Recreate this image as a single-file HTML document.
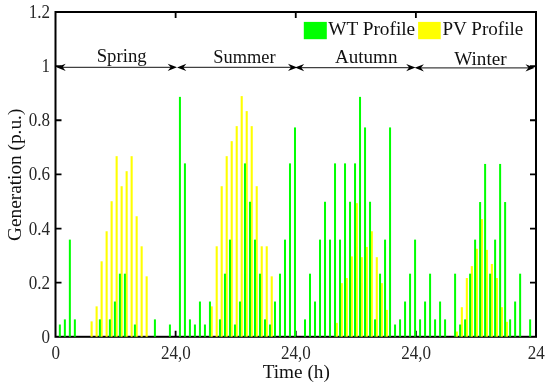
<!DOCTYPE html>
<html><head><meta charset="utf-8"><title>Generation profiles</title>
<style>html,body{margin:0;padding:0;background:#fff}svg{display:block}</style></head>
<body>
<svg width="550" height="387" viewBox="0 0 550 387">
<rect width="550" height="387" fill="#fff"/>
<rect x="55.5" y="12.0" width="480.5" height="324.8" fill="none" stroke="#000" stroke-width="2"/>
<path d="M175.62 336.8v-6M175.62 12.0v6M295.75 336.8v-6M295.75 12.0v6M415.88 336.8v-6M415.88 12.0v6M55.5 282.67h6M536.0 282.67h-6M55.5 228.53h6M536.0 228.53h-6M55.5 174.40h6M536.0 174.40h-6M55.5 120.27h6M536.0 120.27h-6M55.5 66.13h6M536.0 66.13h-6" stroke="#000" stroke-width="1.8" fill="none"/>
<g fill="#ffff00">
<rect x="90.57" y="321.38" width="2.1" height="15.32"/>
<rect x="95.57" y="306.36" width="2.1" height="30.34"/>
<rect x="100.58" y="261.31" width="2.1" height="75.39"/>
<rect x="105.58" y="231.27" width="2.1" height="105.43"/>
<rect x="110.58" y="201.23" width="2.1" height="135.47"/>
<rect x="115.59" y="156.18" width="2.1" height="180.52"/>
<rect x="120.59" y="186.21" width="2.1" height="150.49"/>
<rect x="125.59" y="171.20" width="2.1" height="165.50"/>
<rect x="130.59" y="156.18" width="2.1" height="180.52"/>
<rect x="135.60" y="216.25" width="2.1" height="120.45"/>
<rect x="140.60" y="246.29" width="2.1" height="90.41"/>
<rect x="145.60" y="276.33" width="2.1" height="60.37"/>
<rect x="210.64" y="306.36" width="2.1" height="30.34"/>
<rect x="215.65" y="246.29" width="2.1" height="90.41"/>
<rect x="220.65" y="186.21" width="2.1" height="150.49"/>
<rect x="225.65" y="156.18" width="2.1" height="180.52"/>
<rect x="230.66" y="141.16" width="2.1" height="195.54"/>
<rect x="235.66" y="126.14" width="2.1" height="210.56"/>
<rect x="240.66" y="96.10" width="2.1" height="240.60"/>
<rect x="245.66" y="111.12" width="2.1" height="225.58"/>
<rect x="250.67" y="126.14" width="2.1" height="210.56"/>
<rect x="255.67" y="186.21" width="2.1" height="150.49"/>
<rect x="260.67" y="246.29" width="2.1" height="90.41"/>
<rect x="265.68" y="246.29" width="2.1" height="90.41"/>
<rect x="270.68" y="276.33" width="2.1" height="60.37"/>
<rect x="335.72" y="322.88" width="2.1" height="13.82"/>
<rect x="340.72" y="283.14" width="2.1" height="53.56"/>
<rect x="345.72" y="278.01" width="2.1" height="58.69"/>
<rect x="350.73" y="256.38" width="2.1" height="80.32"/>
<rect x="355.73" y="203.13" width="2.1" height="133.57"/>
<rect x="360.73" y="257.19" width="2.1" height="79.51"/>
<rect x="365.74" y="246.92" width="2.1" height="89.78"/>
<rect x="370.74" y="231.24" width="2.1" height="105.46"/>
<rect x="375.74" y="257.19" width="2.1" height="79.51"/>
<rect x="380.75" y="283.14" width="2.1" height="53.56"/>
<rect x="385.75" y="309.91" width="2.1" height="26.79"/>
<rect x="455.79" y="331.53" width="2.1" height="5.17"/>
<rect x="460.79" y="307.20" width="2.1" height="29.50"/>
<rect x="465.80" y="278.01" width="2.1" height="58.69"/>
<rect x="470.80" y="266.11" width="2.1" height="70.59"/>
<rect x="475.80" y="248.81" width="2.1" height="87.89"/>
<rect x="480.81" y="219.08" width="2.1" height="117.62"/>
<rect x="485.81" y="249.89" width="2.1" height="86.81"/>
<rect x="490.81" y="263.95" width="2.1" height="72.75"/>
<rect x="495.81" y="278.01" width="2.1" height="58.69"/>
<rect x="500.82" y="307.20" width="2.1" height="29.50"/>
<rect x="505.82" y="321.80" width="2.1" height="14.90"/>
</g>
<g fill="#00ff00">
<rect x="58.85" y="324.51" width="2.0" height="12.19"/>
<rect x="63.86" y="319.37" width="2.0" height="17.33"/>
<rect x="68.86" y="239.62" width="2.0" height="97.08"/>
<rect x="73.86" y="319.37" width="2.0" height="17.33"/>
<rect x="98.88" y="319.37" width="2.0" height="17.33"/>
<rect x="108.88" y="319.37" width="2.0" height="17.33"/>
<rect x="113.89" y="301.53" width="2.0" height="35.17"/>
<rect x="118.89" y="273.68" width="2.0" height="63.02"/>
<rect x="123.89" y="273.68" width="2.0" height="63.02"/>
<rect x="133.90" y="324.51" width="2.0" height="12.19"/>
<rect x="153.91" y="319.37" width="2.0" height="17.33"/>
<rect x="168.92" y="324.51" width="2.0" height="12.19"/>
<rect x="178.93" y="96.88" width="2.0" height="239.82"/>
<rect x="183.93" y="163.39" width="2.0" height="173.31"/>
<rect x="188.93" y="319.37" width="2.0" height="17.33"/>
<rect x="193.93" y="324.51" width="2.0" height="12.19"/>
<rect x="198.94" y="301.53" width="2.0" height="35.17"/>
<rect x="203.94" y="324.51" width="2.0" height="12.19"/>
<rect x="208.94" y="301.53" width="2.0" height="35.17"/>
<rect x="218.95" y="319.37" width="2.0" height="17.33"/>
<rect x="223.95" y="273.68" width="2.0" height="63.02"/>
<rect x="228.96" y="239.62" width="2.0" height="97.08"/>
<rect x="233.96" y="324.51" width="2.0" height="12.19"/>
<rect x="238.96" y="301.53" width="2.0" height="35.17"/>
<rect x="243.96" y="163.39" width="2.0" height="173.31"/>
<rect x="248.97" y="201.77" width="2.0" height="134.93"/>
<rect x="253.97" y="239.62" width="2.0" height="97.08"/>
<rect x="258.97" y="273.68" width="2.0" height="63.02"/>
<rect x="263.98" y="319.37" width="2.0" height="17.33"/>
<rect x="268.98" y="324.51" width="2.0" height="12.19"/>
<rect x="273.98" y="301.53" width="2.0" height="35.17"/>
<rect x="278.99" y="273.68" width="2.0" height="63.02"/>
<rect x="283.99" y="239.62" width="2.0" height="97.08"/>
<rect x="288.99" y="163.39" width="2.0" height="173.31"/>
<rect x="293.99" y="127.43" width="2.0" height="209.27"/>
<rect x="304.00" y="319.37" width="2.0" height="17.33"/>
<rect x="309.00" y="273.68" width="2.0" height="63.02"/>
<rect x="314.01" y="301.53" width="2.0" height="35.17"/>
<rect x="319.01" y="239.62" width="2.0" height="97.08"/>
<rect x="324.01" y="201.77" width="2.0" height="134.93"/>
<rect x="329.02" y="239.62" width="2.0" height="97.08"/>
<rect x="334.02" y="163.39" width="2.0" height="173.31"/>
<rect x="339.02" y="239.62" width="2.0" height="97.08"/>
<rect x="344.02" y="163.39" width="2.0" height="173.31"/>
<rect x="349.03" y="201.77" width="2.0" height="134.93"/>
<rect x="354.03" y="163.39" width="2.0" height="173.31"/>
<rect x="359.03" y="96.88" width="2.0" height="239.82"/>
<rect x="364.04" y="127.43" width="2.0" height="209.27"/>
<rect x="369.04" y="201.77" width="2.0" height="134.93"/>
<rect x="374.04" y="319.37" width="2.0" height="17.33"/>
<rect x="379.05" y="273.68" width="2.0" height="63.02"/>
<rect x="384.05" y="239.62" width="2.0" height="97.08"/>
<rect x="389.05" y="127.43" width="2.0" height="209.27"/>
<rect x="394.05" y="324.51" width="2.0" height="12.19"/>
<rect x="399.06" y="319.37" width="2.0" height="17.33"/>
<rect x="404.06" y="301.53" width="2.0" height="35.17"/>
<rect x="409.06" y="273.68" width="2.0" height="63.02"/>
<rect x="414.07" y="239.62" width="2.0" height="97.08"/>
<rect x="419.07" y="319.37" width="2.0" height="17.33"/>
<rect x="424.07" y="301.53" width="2.0" height="35.17"/>
<rect x="429.08" y="273.68" width="2.0" height="63.02"/>
<rect x="434.08" y="319.37" width="2.0" height="17.33"/>
<rect x="439.08" y="301.53" width="2.0" height="35.17"/>
<rect x="444.08" y="319.37" width="2.0" height="17.33"/>
<rect x="454.09" y="273.68" width="2.0" height="63.02"/>
<rect x="459.09" y="324.51" width="2.0" height="12.19"/>
<rect x="464.10" y="319.37" width="2.0" height="17.33"/>
<rect x="469.10" y="273.68" width="2.0" height="63.02"/>
<rect x="474.10" y="239.62" width="2.0" height="97.08"/>
<rect x="479.11" y="202.04" width="2.0" height="134.66"/>
<rect x="484.11" y="163.93" width="2.0" height="172.77"/>
<rect x="489.11" y="273.68" width="2.0" height="63.02"/>
<rect x="494.11" y="239.62" width="2.0" height="97.08"/>
<rect x="499.12" y="163.93" width="2.0" height="172.77"/>
<rect x="504.12" y="202.04" width="2.0" height="134.66"/>
<rect x="509.12" y="319.37" width="2.0" height="17.33"/>
<rect x="514.13" y="301.53" width="2.0" height="35.17"/>
<rect x="519.13" y="273.68" width="2.0" height="63.02"/>
<rect x="529.13" y="319.37" width="2.0" height="17.33"/>
</g>
<g font-family="'Liberation Serif', serif" font-size="17.6" fill="#262626">
<text transform="translate(50.1,343.20) scale(0.97,1.02)" text-anchor="end">0</text>
<text transform="translate(50.1,288.95) scale(0.97,1.02)" text-anchor="end">0.2</text>
<text transform="translate(50.1,234.70) scale(0.97,1.02)" text-anchor="end">0.4</text>
<text transform="translate(50.1,180.45) scale(0.97,1.02)" text-anchor="end">0.6</text>
<text transform="translate(50.1,126.20) scale(0.97,1.02)" text-anchor="end">0.8</text>
<text transform="translate(50.1,71.95) scale(0.97,1.02)" text-anchor="end">1</text>
<text transform="translate(50.1,17.70) scale(0.97,1.02)" text-anchor="end">1.2</text>
<text transform="translate(55.70,359.0) scale(0.97,1.02)" text-anchor="middle">0</text>
<text transform="translate(175.82,359.0) scale(0.97,1.02)" text-anchor="middle">24,0</text>
<text transform="translate(295.95,359.0) scale(0.97,1.02)" text-anchor="middle">24,0</text>
<text transform="translate(416.07,359.0) scale(0.97,1.02)" text-anchor="middle">24,0</text>
<text transform="translate(536.20,359.0) scale(0.97,1.02)" text-anchor="middle">24</text>
</g>
<g font-family="'Liberation Serif', serif" font-size="19" fill="#111">
<text x="328.2" y="35.3" textLength="87" lengthAdjust="spacingAndGlyphs">WT Profile</text>
<text x="442.5" y="35.3" textLength="80.8" lengthAdjust="spacingAndGlyphs">PV Profile</text>
<text x="96.7" y="61.7" textLength="50" lengthAdjust="spacingAndGlyphs">Spring</text>
<text x="213.3" y="63" textLength="62.3" lengthAdjust="spacingAndGlyphs">Summer</text>
<text x="335.0" y="63.4" textLength="62.4" lengthAdjust="spacingAndGlyphs">Autumn</text>
<text x="454.2" y="65" textLength="52.4" lengthAdjust="spacingAndGlyphs">Winter</text>
<text x="262.7" y="378" font-size="17.8" textLength="67.2" lengthAdjust="spacingAndGlyphs">Time (h)</text>
</g>
<text font-family="'Liberation Serif', serif" font-size="19" fill="#111" transform="translate(20.8,240.9) rotate(-90)" textLength="132.2" lengthAdjust="spacingAndGlyphs">Generation (p.u.)</text>
<rect x="303.8" y="21.9" width="23" height="17.3" fill="#00ff00"/>
<rect x="418.1" y="21.9" width="22.6" height="17.3" fill="#ffff00"/>
<path d="M59.4 67.3H174.0" stroke="#404040" stroke-width="1.2" fill="none"/>
<path d="M56.4 67.3l9.3 -3.6l-3 3.6l3 3.6z" fill="#000"/>
<path d="M177.0 67.3l-9.3 -3.6l3 3.6l-3 3.6z" fill="#000"/>
<path d="M180.0 67.4H294.3" stroke="#404040" stroke-width="1.2" fill="none"/>
<path d="M177.0 67.4l9.3 -3.6l-3 3.6l3 3.6z" fill="#000"/>
<path d="M297.3 67.4l-9.3 -3.6l3 3.6l-3 3.6z" fill="#000"/>
<path d="M297.9 67.6H412.5" stroke="#404040" stroke-width="1.2" fill="none"/>
<path d="M294.9 67.6l9.3 -3.6l-3 3.6l3 3.6z" fill="#000"/>
<path d="M415.5 67.6l-9.3 -3.6l3 3.6l-3 3.6z" fill="#000"/>
<path d="M417.6 67.8H531.8" stroke="#404040" stroke-width="1.2" fill="none"/>
<path d="M414.6 67.8l9.3 -3.6l-3 3.6l3 3.6z" fill="#000"/>
<path d="M534.8 67.8l-9.3 -3.6l3 3.6l-3 3.6z" fill="#000"/>
</svg>
</body></html>
